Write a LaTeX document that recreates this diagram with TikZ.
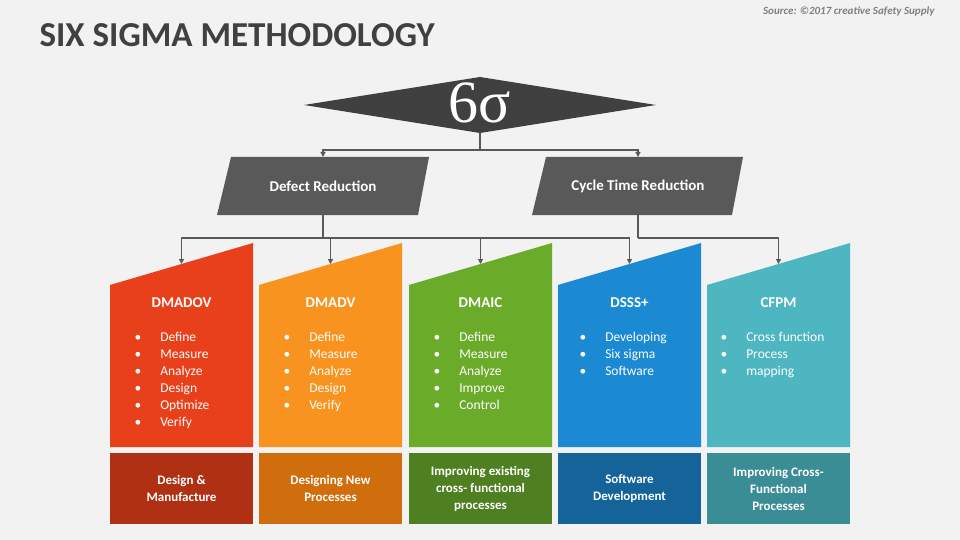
\documentclass[tikz,border=0pt]{standalone}
\usepackage{fontspec}
\setmainfont{Carlito}
\newfontfamily\sigfont{Liberation Serif}
\usetikzlibrary{arrows.meta}
\definecolor{bg}{HTML}{F2F2F2}
\definecolor{dk}{HTML}{404040}
\definecolor{pg}{HTML}{595959}
\definecolor{ln}{HTML}{595959}
\definecolor{cA}{HTML}{E8401A}\definecolor{dA}{HTML}{B03013}
\definecolor{cB}{HTML}{F7931E}\definecolor{dB}{HTML}{D06E0E}
\definecolor{cC}{HTML}{6AAB2A}\definecolor{dC}{HTML}{4E7F20}
\definecolor{cD}{HTML}{1B8AD3}\definecolor{dD}{HTML}{14649A}
\definecolor{cE}{HTML}{4DB6C0}\definecolor{dE}{HTML}{3A8D95}
\begin{document}
\begin{tikzpicture}[x=1pt,y=-1pt,
  conn/.style={draw=ln,line width=1.3pt,-{Triangle[length=5pt,width=5pt]}},
  ttl/.style={text=white,font=\bfseries\fontsize{15}{17}\selectfont},
  lst/.style={text=white,font=\fontsize{13.5}{17}\selectfont,anchor=north west,align=left},
  bot/.style={text=white,font=\bfseries\fontsize{13}{17}\selectfont,align=center}]
\fill[bg] (0,0) rectangle (960,540);
\node[anchor=west,text=dk,font=\bfseries\fontsize{35}{38}\selectfont] (title) at (36,35) {SIX SIGMA METHODOLOGY};
\node[anchor=east,text=gray,font=\itshape\bfseries\fontsize{11}{12}\selectfont] (src) at (938,12) {Source: ©2017 creative Safety Supply};
% diamond
\fill[dk] (304,105) -- (480,77) -- (656,105) -- (480,133) -- cycle;
\node[text=white,font=\sigfont\fontsize{60}{60}\selectfont] (sig) at (480,103) {6σ};
\coordinate (dbot) at (480,133);
% parallelograms
\fill[pg] (231,157) -- (429,157) -- (418,215) -- (217,215) -- cycle;
\fill[pg] (546,157) -- (743,157) -- (732,215) -- (532,215) -- cycle;
\node[text=white,font=\bfseries\fontsize{15}{17}\selectfont] (defect) at (323,186) {Defect Reduction};
\node[text=white,font=\bfseries\fontsize{15}{17}\selectfont] (cycle) at (638,186) {Cycle Time Reduction};
\coordinate (dtop) at (323,157);\coordinate (ctop) at (638,157);
\coordinate (dfb) at (323,215);\coordinate (cfb) at (638,215);
\draw[draw=ln,line width=1.3pt] (dbot) -- (480,150);
\draw[conn] (480,150) -| (dtop);
\draw[conn] (480,150) -| (ctop);
% cards
\foreach \x/\c/\d [count=\i] in {110/cA/dA,259/cB/dB,409/cC/dC,558/cD/dD,707/cE/dE}{
  \fill[\c] (\x,285) -- (\x+143,243) -- (\x+143,447) -- (\x,447) -- cycle;
  \fill[\d] (\x,453) rectangle (\x+143,524);
  \coordinate (t\i) at (\x+71.5,264);
}
\draw[draw=ln,line width=1.3pt] (dfb) -- (323,238);
\draw[draw=ln,line width=1.3pt] (cfb) -- (638,238);
\draw[conn] (323,238) -| (t1);
\draw[conn] (323,238) -| (t2);
\draw[conn] (323,238) -| (t3);
\draw[conn] (323,238) -| (t4);
\draw[conn] (638,238) -| (t5);
\node[ttl] (h1) at (181.5,303) {DMADOV};
\node[ttl] (h2) at (330.5,303) {DMADV};
\node[ttl] (h3) at (480.5,303) {DMAIC};
\node[ttl] (h4) at (629.5,303) {DSSS+};
\node[ttl] (h5) at (778.5,303) {CFPM};
\node[lst] (l1) at (131,329) {•\hspace{19pt}Define\\•\hspace{19pt}Measure\\•\hspace{19pt}Analyze\\•\hspace{19pt}Design\\•\hspace{19pt}Optimize\\•\hspace{19pt}Verify};
\node[lst] (l2) at (280,329) {•\hspace{19pt}Define\\•\hspace{19pt}Measure\\•\hspace{19pt}Analyze\\•\hspace{19pt}Design\\•\hspace{19pt}Verify};
\node[lst] (l3) at (430,329) {•\hspace{19pt}Define\\•\hspace{19pt}Measure\\•\hspace{19pt}Analyze\\•\hspace{19pt}Improve\\•\hspace{19pt}Control};
\node[lst] (l4) at (576,329) {•\hspace{19pt}Developing\\•\hspace{19pt}Six sigma\\•\hspace{19pt}Software};
\node[lst] (l5) at (717,329) {•\hspace{19pt}Cross function\\•\hspace{19pt}Process\\•\hspace{19pt}mapping};
\node[bot] (b1) at (181.5,488.5) {Design \&\\Manufacture};
\node[bot] (b2) at (330.5,488.5) {Designing New\\Processes};
\node[bot] (b3) at (480.5,488.5) {Improving existing\\cross- functional\\processes};
\node[bot] (b4) at (629.5,488.5) {Software\\Development};
\node[bot] (b5) at (778.5,488.5) {Improving Cross-\\Functional\\Processes};
\end{tikzpicture}
\end{document}
